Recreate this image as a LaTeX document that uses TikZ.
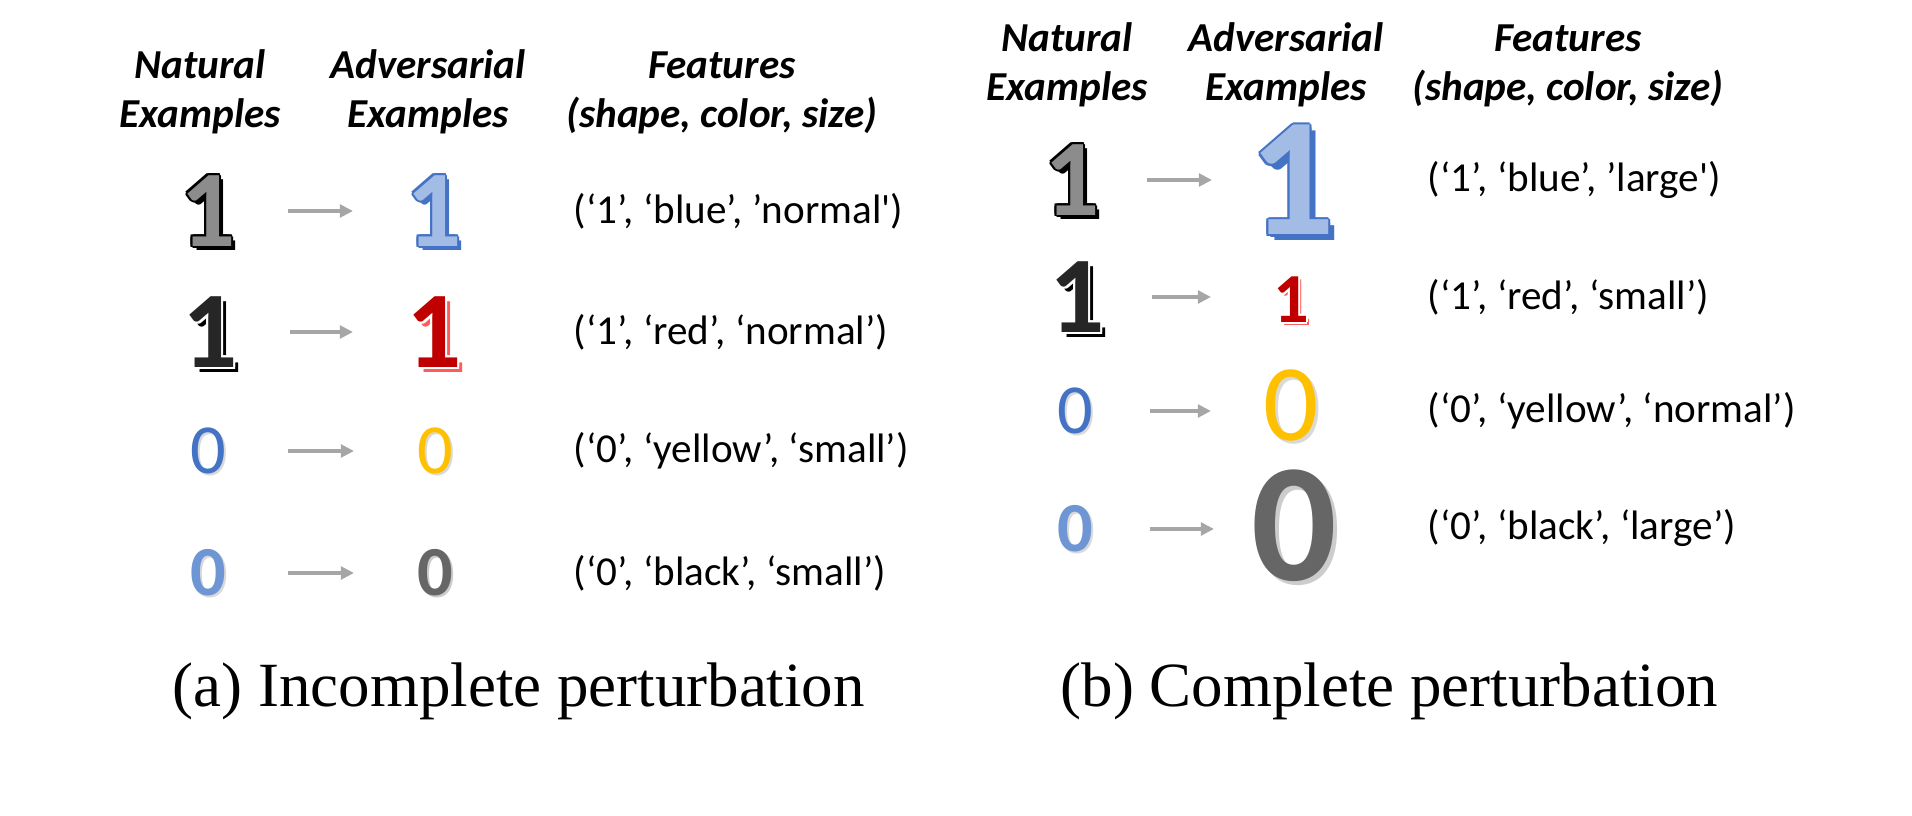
\documentclass[tikz,border=0pt]{standalone}
\usepackage{fontspec}
\setmainfont{Carlito}
\newfontfamily\capfont{Liberation Serif}
\usetikzlibrary{arrows.meta}
\definecolor{arrowgray}{HTML}{A6A6A6}
\definecolor{accblue}{HTML}{4472C4}
\definecolor{lightblue}{HTML}{A3BCE6}
\definecolor{stripeblue}{HTML}{6F96D4}
\definecolor{accred}{HTML}{C00000}
\definecolor{pinkred}{HTML}{FF5B5B}
\definecolor{accyellow}{HTML}{FFC000}
% digit sizes: small / normal / large, bold or regular
\newcommand\numSB{\bfseries\fontsize{20}{24}\selectfont}
\newcommand\numSR{\fontsize{20}{24}\selectfont}
\newcommand\numNB{\bfseries\fontsize{31}{36}\selectfont}
\newcommand\numNR{\fontsize{31}{36}\selectfont}
\newcommand\numLB{\bfseries\fontsize{48}{56}\selectfont}
\begin{document}
\begin{tikzpicture}[x=0.01cm,y=-0.01cm,every node/.style={inner sep=0pt},
  hd/.style={font=\bfseries\itshape\fontsize{11.7}{14.2}\selectfont,align=center,anchor=base},
  ft/.style={font=\fontsize{11.7}{14.2}\selectfont,anchor=west},
  dg/.style={anchor=center},
  arr/.style={draw=arrowgray,line width=0.95pt,-{Triangle[length=3.7pt,width=3.6pt]}},
  captext/.style={font=\capfont\fontsize{17.9}{21.5}\selectfont,anchor=base west}]
\useasboundingbox (0,0) rectangle (1912,816);
% (a) incomplete perturbation
\node[hd] (ha1) at (200,128) {Natural\\Examples};
\node[hd] (ha2) at (428,128) {Adversarial\\Examples};
\node[hd] (ha3) at (722,128) {Features\\(shape, color, size)};
% (b) complete perturbation
\node[hd] (hb1) at (1067,101) {Natural\\Examples};
\node[hd] (hb2) at (1286,101) {Adversarial\\Examples};
\node[hd] (hb3) at (1568,101) {Features\\(shape, color, size)};
% ones: shadow, white gap, outline, face
\foreach \nm/\x/\y/\f/\c/\l/\s/\g/\o in {an1/208/211/\numNB/black!45/black/black/black/4,
  an2/210/332/\numNB/black!85/white/black/white/5, am1/434/211/\numNB/lightblue/accblue/accblue/accblue/4,
  am2/434/332/\numNB/accred/white/pinkred/white/5, bn1/1072/180/\numNB/black!45/black/black/black/4,
  bn2/1077/297/\numNB/black!85/white/black/white/5, bm1/1292/180/\numLB/lightblue/accblue/accblue/accblue/6,
  bm2/1291/300/\numSB/accred/white/pinkred/white/3} {
  \node[dg,font=\f,text=\s] (\nm s) at (\x+\o,\y+\o) {1};
  \node[dg,font=\f,text=\g] (\nm g) at (\x+0.4*\o,\y+0.4*\o) {1};
  \foreach \a in {0,45,...,315}
    \node[dg,font=\f,text=\l] (\nm o\a) at ({\x+2*cos(\a)},{\y+2*sin(\a)}) {1};
  \node[dg,font=\f,text=\c] (\nm) at (\x,\y) {1};
}
% zeros: soft shadow, face
\foreach \nm/\x/\y/\f/\c/\s/\o in {an3/208/451/\numSR/accblue/black!15/2,
  an4/208/573/\numSB/stripeblue/black!15/2, am3/435/451/\numSR/accyellow/black!15/2,
  am4/435/573/\numSB/black!60/black!20/2, bn3/1075/411/\numSR/accblue/black!15/2,
  bn4/1075/529/\numSB/stripeblue/black!15/2, bm3/1291/406/\numNR/accyellow/black!15/3,
  bm4/1294/526/\numLB/black!60/black!20/4} {
  \node[dg,font=\f,text=\s] (\nm s) at (\x+\o,\y+\o) {0};
  \node[dg,font=\f,text=\c] (\nm) at (\x,\y) {0};
}
\foreach \i in {1,...,4} {
  \draw[arr,shorten <=0.80cm,shorten >=0.81cm] (an\i.center) -- (an\i.center -| am\i);
  \draw[arr,shorten <=0.75cm,shorten >=0.80cm] (bn\i.center) -- (bn\i.center -| bm\i);
}
% features
\node[ft] (af1) at (573,211) {(‘1’, ‘blue’, ’normal\textquotesingle)};
\node[ft] (af2) at (573,332) {(‘1’, ‘red’, ‘normal’)};
\node[ft] (af3) at (573,451) {(‘0’, ‘yellow’, ‘small’)};
\node[ft] (af4) at (573,573) {(‘0’, ‘black’, ‘small’)};
\node[ft] (bf1) at (1427,180) {(‘1’, ‘blue’, ’large\textquotesingle)};
\node[ft] (bf2) at (1427,297) {(‘1’, ‘red’, ‘small’)};
\node[ft] (bf3) at (1427,411) {(‘0’, ‘yellow’, ‘normal’)};
\node[ft] (bf4) at (1427,528) {(‘0’, ‘black’, ‘large’)};
% captions
\node[captext] (capa) at (172,707) {(a) Incomplete perturbation};
\node[captext] (capb) at (1060,707) {(b) Complete perturbation};
\end{tikzpicture}
\end{document}
